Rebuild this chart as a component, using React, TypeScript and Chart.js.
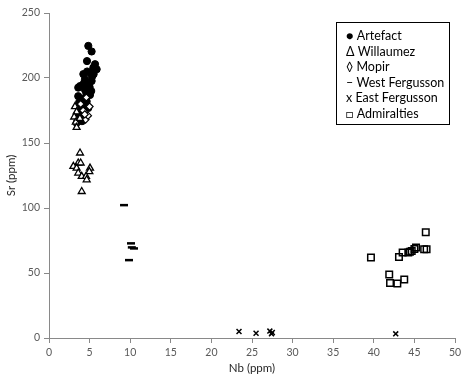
import React, { useEffect, useRef } from "react";
import { Chart, registerables } from "chart.js";

Chart.register(...registerables);

const artefactNb = [4.84, 5.25, 4.68, 5.67, 5.46, 4.23, 5.05, 5.87, 4.43, 5.25, 3.82, 3.6, 4.43, 5.05, 3.6, 4.64, 4.84, 3.82, 3.6, 4.23, 3.4, 4.06, 4.9, 4.6, 5.3, 4.2, 4.0, 5.2, 4.4, 3.9, 5.5, 4.7, 5.0, 4.3, 3.7];
const artefactSr = [224.7, 220.4, 213, 210.6, 208, 203, 204, 206.7, 199, 197.7, 193.8, 192.6, 191, 187, 186, 182, 177, 175.8, 170.6, 169.4, 165.5, 166.8, 195, 188, 201, 184, 179, 190, 178, 172, 203, 205, 193, 196, 181];

const willaumezNb = [3.2, 3.4, 3.1, 3.3, 3.4, 3.8, 3.82, 3.6, 3.0, 3.4, 3.9, 5.05, 4.97, 3.6, 4.03, 4.56, 4.64, 4.03];
const willaumezSr = [178, 174, 170, 166, 162, 169, 142.3, 134.6, 132, 130.7, 134.6, 130.7, 128, 126.9, 124.3, 124.3, 121.7, 112.7];

const mopirNb = [4.5, 4.8, 4.2, 3.9, 4.6, 5.0, 4.4];
const mopirSr = [168, 171, 175, 180, 185, 178, 172];

const westFergNb = [9.24, 10.1, 10.2, 10.47, 9.85];
const westFergSr = [102.2, 72.8, 69.7, 68.9, 59.9];

const eastFergNb = [23.4, 25.5, 27.2, 27.4, 27.5, 42.7];
const eastFergSr = [5.0, 3.7, 5.3, 3.2, 4.2, 3.2];

const admiraltiesNb = [46.4, 39.65, 43.1, 43.55, 44.25, 44.45, 44.67, 45.0, 45.2, 46.2, 46.5, 41.9, 42.0, 42.9, 43.75];
const admiraltiesSr = [81.3, 62, 62.4, 65.8, 65.8, 66.3, 67, 68.4, 69.7, 68.2, 68.2, 48.8, 42.4, 41.9, 45];

const legendLabels = ["● Artefact", "Δ Willaumez", "◊ Mopir", "– West Fergusson", "x East Fergusson", "□ Admiralties"];

const pts = (xs: number[], ys: number[]) => xs.map((x, i) => ({ x, y: ys[i] }));

const FONT = "Lato, 'Open Sans', sans-serif";

const legendPlugin = {
  id: "textLegend",
  afterDraw(chart: any) {
    const ctx = chart.ctx;
    ctx.save();
    ctx.strokeStyle = "#000";
    ctx.lineWidth = 1;
    ctx.strokeRect(336.5, 22.5, 113, 102);
    ctx.fillStyle = "#000";
    ctx.font = `12.5px ${FONT}`;
    ctx.textBaseline = "middle";
    ctx.textAlign = "left";
    legendLabels.forEach((t, i) => {
      ctx.fillText(t, 346, 36 + i * 15.5);
    });
    ctx.restore();
  },
};

export default function App() {
  const ref = useRef<HTMLCanvasElement>(null);
  useEffect(() => {
    const axisColor = "#898989";
    const chart = new Chart(ref.current!, {
      type: "scatter",
      data: {
        datasets: [
          {
            label: "Willaumez",
            data: pts(willaumezNb, willaumezSr),
            pointStyle: "triangle",
            pointRadius: 4,
            pointBackgroundColor: "#fff",
            pointBorderColor: "#000",
            pointBorderWidth: 1.3,
            order: 1,
          },
          {
            label: "Mopir",
            data: pts(mopirNb, mopirSr),
            pointStyle: "rectRot",
            pointRadius: 3.5,
            pointBackgroundColor: "#fff",
            pointBorderColor: "#000",
            pointBorderWidth: 1.2,
            order: 2,
          },
          {
            label: "Artefact",
            data: pts(artefactNb, artefactSr),
            pointStyle: "circle",
            pointRadius: 3.6,
            pointBackgroundColor: "#000",
            pointBorderColor: "#000",
            pointBorderWidth: 1,
            order: 3,
          },
          {
            label: "West Fergusson",
            data: pts(westFergNb, westFergSr),
            pointStyle: "line",
            pointRadius: 4,
            pointBorderColor: "#000",
            pointBorderWidth: 2.5,
            order: 4,
          },
          {
            label: "East Fergusson",
            data: pts(eastFergNb, eastFergSr),
            pointStyle: "crossRot",
            pointRadius: 3.5,
            pointBorderColor: "#000",
            pointBorderWidth: 1.5,
            order: 5,
          },
          {
            label: "Admiralties",
            data: pts(admiraltiesNb, admiraltiesSr),
            pointStyle: "rect",
            pointRadius: 4.6,
            pointBackgroundColor: "rgba(255,255,255,0)",
            pointBorderColor: "#000",
            pointBorderWidth: 1.5,
            order: 6,
          },
        ],
      },
      options: {
        responsive: false,
        animation: false,
        layout: { padding: { top: 13, right: 19, left: 0, bottom: 0 } },
        plugins: { legend: { display: false }, tooltip: { enabled: false } },
        scales: {
          x: {
            type: "linear",
            min: 0,
            max: 50,
            ticks: { stepSize: 5, color: "#595959", font: { family: FONT, size: 10.5 }, padding: 3, maxRotation: 0 },
            grid: { drawOnChartArea: false, tickLength: 5, color: axisColor },
            border: { color: axisColor },
            title: { display: true, text: "Nb (ppm)", color: "#262626", font: { family: FONT, size: 11.5 }, padding: { top: 4, bottom: 6 } },
            afterFit: (s: any) => { s.height = 43; },
          },
          y: {
            type: "linear",
            min: 0,
            max: 250,
            ticks: { stepSize: 50, color: "#595959", font: { family: FONT, size: 10.5 }, padding: 4 },
            grid: { drawOnChartArea: false, tickLength: 5, color: axisColor },
            border: { color: axisColor },
            title: { display: true, text: "Sr (ppm)", color: "#262626", font: { family: FONT, size: 11.5 }, padding: { top: 4, bottom: 4 } },
            afterFit: (s: any) => { s.width = 49; },
          },
        },
      },
      plugins: [legendPlugin],
    });
    return () => chart.destroy();
  }, []);
  return (
    <div style={{ position: "absolute", left: 0, top: 0, width: 474, height: 381, background: "#fff" }}>
      <canvas ref={ref} width={474} height={381} />
    </div>
  );
}
